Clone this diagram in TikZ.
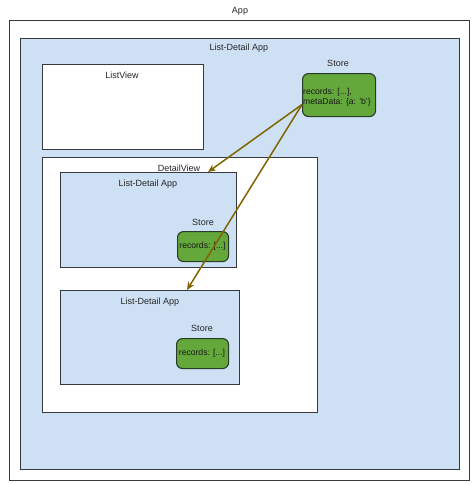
\documentclass[tikz,border=0pt]{standalone}
\usepackage{fontspec}
\setmainfont{Liberation Sans}
\usetikzlibrary{arrows.meta}
\definecolor{bluefill}{RGB}{206,224,244}
\definecolor{boxline}{RGB}{54,57,61}
\definecolor{greenfill}{RGB}{100,168,60}
\definecolor{greenline}{RGB}{40,58,40}
\definecolor{arrowcol}{RGB}{128,100,0}
\tikzset{
  every node/.style={font=\fontsize{9}{10.5}\selectfont, text=black!85},
  whitebox/.style={draw=boxline, line width=1.1pt, fill=white, anchor=north west, inner sep=0pt},
  bluebox/.style={draw=boxline, line width=1.1pt, fill=bluefill, anchor=north west, inner sep=0pt},
  storebox/.style={draw=greenline, line width=1.1pt, fill=greenfill, rounded corners=6pt, anchor=north west, inner sep=0pt},
  lbl/.style={inner sep=0pt},
  flow/.style={draw=arrowcol, line width=1.5pt, -{Stealth[length=8pt,width=7pt]}},
}
\begin{document}
\begin{tikzpicture}[x=1pt,y=-1pt]
\useasboundingbox (0,0) rectangle (474,485);
% outer App
\node[lbl] (applbl) at (240,11) {App};
\node[whitebox, minimum width=460pt, minimum height=460pt] (app) at (9,20) {};
% big List-Detail App
\node[bluebox, minimum width=439pt, minimum height=431pt] (ldmain) at (20,38) {};
\node[lbl] (ldmainlbl) at (239,48) {List-Detail App};
% ListView
\node[whitebox, minimum width=161pt, minimum height=85pt] (listview) at (42,64) {};
\node[lbl] (listviewlbl) at (122,75) {ListView};
% main store
\node[lbl] (storelbl) at (338,63) {Store};
\node[storebox, minimum width=73pt, minimum height=43pt] (store) at (302,73) {};
\node[lbl, anchor=west, align=left, font=\fontsize{8.6}{10}\selectfont, text=black!90] (storetxt) at (303,97) {records: [...],\\metaData: \{a: 'b'\}};
% DetailView
\node[whitebox, minimum width=275pt, minimum height=255pt] (detail) at (42,157) {};
\node[lbl] (detaillbl) at (179,168) {DetailView};
% inner app 1
\node[bluebox, minimum width=176pt, minimum height=95pt] (ldone) at (60,172) {};
\node[lbl] (ldonelbl) at (148,184) {List-Detail App};
\node[lbl] (storeonelbl) at (203,222) {Store};
\node[storebox, minimum width=51pt, minimum height=30pt] (storeone) at (177,231) {};
\node[lbl, font=\fontsize{8.6}{10}\selectfont, text=black!90] (storeonetxt) at (202.5,246) {records: [...]};
% inner app 2
\node[bluebox, minimum width=179pt, minimum height=94pt] (ldtwo) at (60,290) {};
\node[lbl] (ldtwolbl) at (150,302) {List-Detail App};
\node[lbl] (storetwolbl) at (202,328) {Store};
\node[storebox, minimum width=52pt, minimum height=30pt] (storetwo) at (176,338) {};
\node[lbl, font=\fontsize{8.6}{10}\selectfont, text=black!90] (storetwotxt) at (202,353) {records: [...]};
% arrows
\coordinate (src) at ([yshift=-9.5pt]store.west);
\coordinate (tgtone) at ([xshift=148pt]ldone.north west);
\coordinate (tgttwo) at ([xshift=127pt]ldtwo.north west);
\draw[flow] (src) -- (tgtone);
\draw[flow] (src) -- (tgttwo);
\end{tikzpicture}
\end{document}
